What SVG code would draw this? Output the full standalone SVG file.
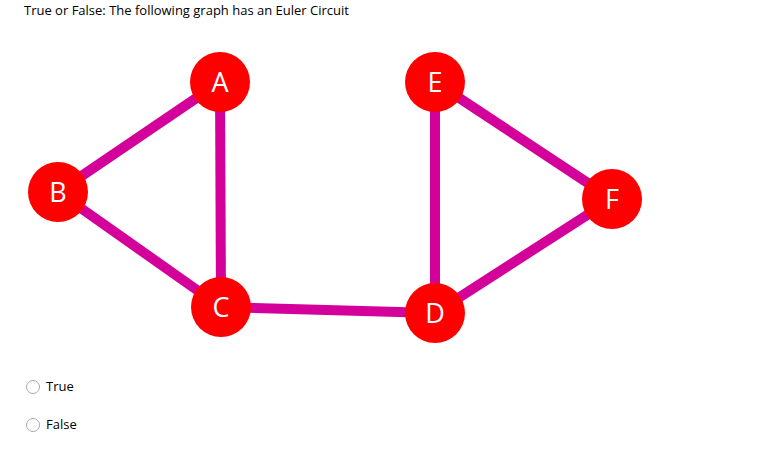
<svg xmlns="http://www.w3.org/2000/svg" width="764" height="473" viewBox="0 0 764 473">
<style>
.e{stroke:#d3009a;stroke-width:10;fill:none}
.n circle{fill:#fe0000}
.n text{fill:#fff;font-family:"Open Sans",sans-serif;font-size:27px;text-anchor:middle}
.t{font-family:"Open Sans",sans-serif;font-size:13px;fill:#000}
.r{fill:#fff;stroke:#aaa;stroke-width:1}
</style>
<rect width="764" height="473" fill="#fff"/>
<text class="t" x="24" y="15">True or False: The following graph has an Euler Circuit</text>
<g id="edges">
<line class="e" x1="220" y1="82" x2="58" y2="192"/>
<line class="e" x1="220" y1="82" x2="221" y2="307"/>
<line class="e" x1="58" y1="192" x2="221" y2="307"/>
<line class="e" x1="221" y1="307" x2="435" y2="313"/>
<line class="e" x1="435" y1="82" x2="435" y2="313"/>
<line class="e" x1="435" y1="82" x2="612" y2="199"/>
<line class="e" x1="612" y1="199" x2="435" y2="313"/>
</g>
<g id="A" class="n"><circle cx="220" cy="82" r="30"/><text x="220" y="92">A</text></g>
<g id="E" class="n"><circle cx="435" cy="82" r="30"/><text x="435" y="92">E</text></g>
<g id="B" class="n"><circle cx="58" cy="192" r="30"/><text x="58" y="202">B</text></g>
<g id="F" class="n"><circle cx="612" cy="199" r="30"/><text x="612" y="209">F</text></g>
<g id="C" class="n"><circle cx="221" cy="307" r="30"/><text x="221" y="317">C</text></g>
<g id="D" class="n"><circle cx="435" cy="313" r="30"/><text x="435" y="323">D</text></g>
<circle class="r" cx="33" cy="387" r="6.5"/>
<text class="t" x="46" y="391">True</text>
<circle class="r" cx="33" cy="425" r="6.5"/>
<text class="t" x="46" y="429">False</text>
</svg>
